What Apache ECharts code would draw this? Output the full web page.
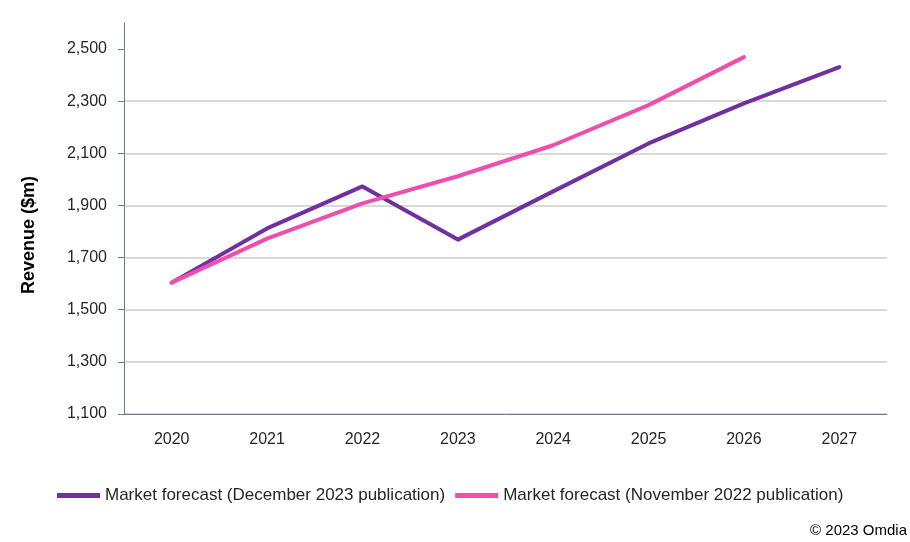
<!DOCTYPE html>
<html>
<head>
<meta charset="utf-8">
<script src="https://cdn.jsdelivr.net/npm/echarts@6/dist/echarts.min.js"></script>
<style>
  html, body { margin: 0; padding: 0; background: #fff; }
  #chart { width: 910px; height: 542px; }
</style>
</head>
<body>
<div id="chart"></div>
<script>
// 数据
const years = ["2020", "2021", "2022", "2023", "2024", "2025", "2026", "2027"];
const dec2023 = [1604, 1812, 1973, 1769, 1954, 2138, 2292, 2431];
const nov2022 = [1604, 1773, 1908, 2012, 2131, 2285, 2469, null];
const yTicks = [1100, 1300, 1500, 1700, 1900, 2100, 2300, 2500];

const font = "'Liberation Sans', sans-serif";
const chart = echarts.init(document.getElementById("chart"));

const option = {
  animation: false,
  textStyle: { fontFamily: font },
  grid: { left: 124, right: 23, top: 23, bottom: 128 },
  legend: {
    left: 52,
    top: 482,
    itemWidth: 43,
    itemHeight: 5,
    itemGap: 10,
    icon: "rect",
    textStyle: { fontFamily: font, fontSize: 17, color: "#262626" },
    data: ["Market forecast (December 2023 publication)", "Market forecast (November 2022 publication)"],
  },
  xAxis: {
    type: "category",
    data: years,
    axisLine: { lineStyle: { color: "#6E7F91", width: 1 } },
    axisTick: { show: false },
    axisLabel: { fontFamily: font, fontSize: 16, color: "#262626", margin: 18 },
  },
  yAxis: {
    type: "value",
    min: 1100,
    max: 2600,
    interval: 200,
    axisLine: { show: true, lineStyle: { color: "#6E7F91", width: 1 } },
    axisTick: { show: true, length: 6, customValues: yTicks, lineStyle: { color: "#6E7F91" } },
    axisLabel: {
      customValues: yTicks,
      fontFamily: font,
      fontSize: 16,
      color: "#262626",
      margin: 17,
      formatter: (v) => v.toLocaleString("en-US"),
    },
    splitLine: { showMaxLine: false, lineStyle: { color: "#D9D9D9", width: 2 } },
  },
  graphic: [
    {
      type: "text",
      x: 29,
      y: 235,
      rotation: Math.PI / 2,
      style: {
        text: "Revenue ($m)",
        fontFamily: font,
        fontSize: 18,
        fontWeight: "bold",
        fill: "#000",
        align: "center",
        verticalAlign: "middle",
      },
    },
    {
      type: "text",
      right: 3,
      top: 523,
      style: { text: "© 2023 Omdia", fontFamily: font, fontSize: 15, fill: "#000" },
    },
  ],
  series: [
    {
      name: "Market forecast (December 2023 publication)",
      type: "line",
      data: dec2023,
      showSymbol: false,
      lineStyle: { width: 4, cap: "round", join: "round" },
      z: 2,
    },
    {
      name: "Market forecast (November 2022 publication)",
      type: "line",
      data: nov2022,
      showSymbol: false,
      lineStyle: { width: 4, cap: "round", join: "round" },
      z: 3,
    },
  ],
  color: ["#7030A0", "#EE4FAE"],
};

chart.setOption(option);
</script>
</body>
</html>
